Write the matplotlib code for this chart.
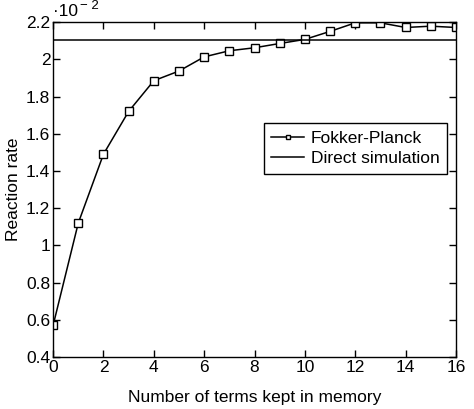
import numpy as np
import matplotlib
matplotlib.use("Agg")
import matplotlib.pyplot as plt

plt.rcParams['font.family'] = ['Liberation Sans', 'DejaVu Sans']

# data (values in units of 1e-2)
terms = [0, 1, 2, 3, 4, 5, 6, 7, 8, 9, 10, 11, 12, 13, 14, 15, 16]
fokker_planck = [0.57, 1.12, 1.49, 1.72, 1.885, 1.937, 2.013, 2.046, 2.062, 2.085,
                 2.107, 2.15, 2.196, 2.196, 2.171, 2.178, 2.171]
direct_sim = 2.103
xticks = [0, 2, 4, 6, 8, 10, 12, 14, 16]
yticks = [0.4, 0.6, 0.8, 1.0, 1.2, 1.4, 1.6, 1.8, 2.0, 2.2]
yticklabels = ["0.4", "0.6", "0.8", "1", "1.2", "1.4", "1.6", "1.8", "2", "2.2"]

FS = 12.5

fig = plt.figure(figsize=(4.74, 4.09), dpi=100)
ax = fig.add_axes([0.112, 0.127, 0.850, 0.819])

ax.plot(terms, fokker_planck, color='black', lw=1.1, marker='s', markersize=6,
        markerfacecolor='white', markeredgecolor='black', markeredgewidth=1.0,
        label='Fokker-Planck')
ax.axhline(direct_sim, color='black', lw=1.1, label='Direct simulation')

ax.set_xlim(0, 16)
ax.set_ylim(0.4, 2.2)
ax.set_xticks(xticks)
ax.set_yticks(yticks)
ax.set_yticklabels(yticklabels)
ax.tick_params(direction='in', length=5, width=1.0, top=True, right=True,
               labelsize=FS, pad=2)
for s in ax.spines.values():
    s.set_linewidth(1.0)

ax.set_xlabel('Number of terms kept in memory', fontsize=FS, labelpad=11)
ax.set_ylabel('Reaction rate', fontsize=FS, labelpad=4)

# exponent label above the y axis
ax.text(0.0, 1.018, '\u00b710', transform=ax.transAxes, fontsize=FS,
        ha='left', va='baseline')
ax.text(0.066, 1.040, '\u2212 2', transform=ax.transAxes, fontsize=9.5,
        ha='left', va='baseline')

leg = ax.legend(loc='upper right', bbox_to_anchor=(0.978, 0.699), borderaxespad=0,
                fontsize=FS, fancybox=False, edgecolor='black', framealpha=1,
                markerscale=0.6, handlelength=1.9, handletextpad=0.35,
                borderpad=0.45, labelspacing=0.27)
leg.get_frame().set_linewidth(1.0)

fig.savefig('out.png', dpi=100)
